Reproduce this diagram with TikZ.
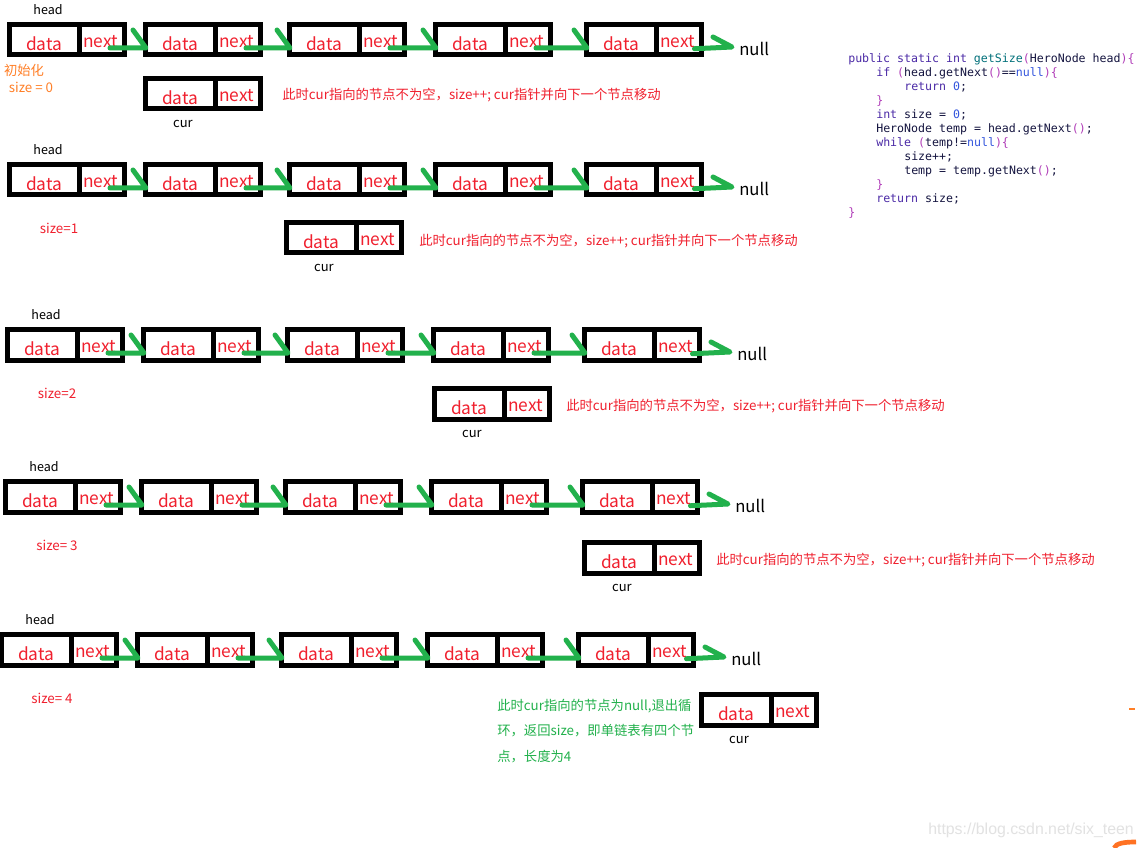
\documentclass[tikz,border=0pt]{standalone}
\usepackage{fontspec}
\newfontfamily\cjk{Noto Sans CJK SC}
\newfontfamily\codefont{DejaVu Sans Mono}
\newfontfamily\wmfont{Liberation Sans}
\usetikzlibrary{calc}
\definecolor{txtred}{HTML}{F0202E}
\definecolor{lgreen}{HTML}{22B14C}
\definecolor{orng}{HTML}{FF7F27}
\definecolor{kw}{HTML}{4B2AA6}
\definecolor{fn}{HTML}{00707A}
\definecolor{num}{HTML}{3355DD}
\definecolor{brk}{HTML}{B03CB8}
\definecolor{plain}{HTML}{151540}
\definecolor{wmgray}{HTML}{E2E2E2}
\tikzset{
  cell/.style={draw=black, line width=3.75pt, outer sep=0pt, inner sep=0pt, minimum height=22.875pt},
  dcell/.style={cell, minimum width=52.125pt},
  ncell/.style={cell, minimum width=34.125pt},
  dtxt/.style={font=\cjk\fontsize{13}{14}\selectfont, text=txtred, inner sep=0pt},
  headtxt/.style={font=\cjk\fontsize{9.4}{11}\selectfont, text=black, inner sep=0pt},
  curtxt/.style={font=\cjk\fontsize{9.75}{11}\selectfont, text=black, inner sep=0pt},
  nulltxt/.style={font=\cjk\fontsize{12.5}{14}\selectfont, text=black, inner sep=0pt},
  note/.style={font=\cjk\fontsize{10}{12}\selectfont, text=txtred, inner sep=0pt, anchor=west},
  sizetxt/.style={font=\cjk\fontsize{10}{12}\selectfont, text=txtred, inner sep=0pt},
  greentxt/.style={font=\cjk\fontsize{10}{12}\selectfont, text=lgreen, inner sep=0pt, anchor=west},
  codeline/.style={font=\codefont\fontsize{8.7}{10}\selectfont, text=plain, inner sep=0pt, anchor=base west},
  garrow/.style={draw=lgreen, line width=3.75pt, line cap=round, line join=round},
}
\newcommand\LL[3]{%
  \node[dcell,anchor=north west] (#1-d) at ({#2+2.5},{#3+2.5}) {};
  \node[ncell,anchor=west] (#1-n) at (#1-d.east) {};
  \node[dtxt] (#1-dt) at ($(#1-d.center)+(0,3.5)$) {data};
  \node[dtxt] (#1-nt) at ($(#1-n.center)+(-1,1.5)$) {next};
}
\newcommand\GA[2]{\draw[garrow] ($(#1-n.east)+(-14.5,8.25)$) -- ($(#2-d.west)+(0.5,8.25)$) -- ++(-13,-18);}
\newcommand\NA[2]{\draw[garrow] ($(#1-n.east)+(-7,9)$) -- ($(#2.west)+(-7,-2)$) -- ++(-19,-10);}
\newcommand\Row[3]{%
  \node[headtxt] (#1-head) at ({48+(#2)},{10+(#3)}) {head};
  \LL{#1-1}{7+(#2)}{22+(#3)}
  \LL{#1-2}{143+(#2)}{22+(#3)}
  \LL{#1-3}{287+(#2)}{22+(#3)}
  \LL{#1-4}{433+(#2)}{22+(#3)}
  \LL{#1-5}{584+(#2)}{22+(#3)}
  \node[nulltxt, anchor=west] (#1-null) at ({739+(#2)},{49+(#3)}) {null};
  \GA{#1-1}{#1-2}
  \GA{#1-2}{#1-3}
  \GA{#1-3}{#1-4}
  \GA{#1-4}{#1-5}
  \NA{#1-5}{#1-null}
}
\newcommand\CUR[3]{%
  \LL{#1}{#2}{#3}
  \node[curtxt] (#1-lbl) at ({#2+40},{#3+48}) {cur};
}
\begin{document}
\begin{tikzpicture}[x=0.75pt,y=-0.75pt]
\fill[white] (0,0) rectangle (1141,848);
\useasboundingbox (0,0) rectangle (1141,848);

% rows
\Row{r1}{0}{0}
\Row{r2}{0}{140}
\Row{r3}{-2}{305}
\Row{r4}{-4}{457}
\Row{r5}{-8}{610}

% cur boxes
\CUR{c1}{143}{76}
\CUR{c2}{284}{220}
\CUR{c3}{432}{386}
\CUR{c4}{582}{540}
\CUR{c5}{699}{692}

% annotations
\node[note] (n1) at (282,95) {此时cur指向的节点不为空，size++; cur指针并向下一个节点移动};
\node[note] (n2) at (419,241) {此时cur指向的节点不为空，size++; cur指针并向下一个节点移动};
\node[note] (n3) at (566,406) {此时cur指向的节点不为空，size++; cur指针并向下一个节点移动};
\node[note] (n4) at (716,560) {此时cur指向的节点不为空，size++; cur指针并向下一个节点移动};

\node[greentxt] (g1) at (497,706) {此时cur指向的节点为null,退出循};
\node[greentxt] (g2) at (497,731) {环，返回size，即单链表有四个节};
\node[greentxt] (g3) at (497,757) {点，长度为4};

% size labels
\node[sizetxt, text=orng] (s0a) at (24,70) {初始化};
\node[sizetxt, text=orng] (s0b) at (31,87) {size = 0};
\node[sizetxt] (s1) at (59,228) {size=1};
\node[sizetxt] (s2) at (57,393) {size=2};
\node[sizetxt] (s3) at (57,545) {size= 3};
\node[sizetxt] (s4) at (52,698) {size= 4};

% code
\node[codeline] (k1) at (848,63) {\textcolor{kw}{public static int} \textcolor{fn}{getSize}\textcolor{brk}{(}HeroNode head\textcolor{brk}{)\{}};
\node[codeline] (k2) at (876,77) {\textcolor{kw}{if} \textcolor{brk}{(}head.getNext\textcolor{brk}{()}==\textcolor{num}{null}\textcolor{brk}{)\{}};
\node[codeline] (k3) at (904,91) {\textcolor{kw}{return} \textcolor{num}{0};};
\node[codeline] (k4) at (876,105) {\textcolor{brk}{\}}};
\node[codeline] (k5) at (876,119) {\textcolor{kw}{int} size = \textcolor{num}{0};};
\node[codeline] (k6) at (876,133) {HeroNode temp = head.getNext\textcolor{brk}{()};};
\node[codeline] (k7) at (876,147) {\textcolor{kw}{while} \textcolor{brk}{(}temp!=\textcolor{num}{null}\textcolor{brk}{)\{}};
\node[codeline] (k8) at (904,161) {size++;};
\node[codeline] (k9) at (904,175) {temp = temp.getNext\textcolor{brk}{()};};
\node[codeline] (k10) at (876,189) {\textcolor{brk}{\}}};
\node[codeline] (k11) at (876,203) {\textcolor{kw}{return} size;};
\node[codeline] (k12) at (848,217) {\textcolor{brk}{\}}};

% watermark and small marks
\node[font=\wmfont\fontsize{11.9}{13}\selectfont, text=wmgray, inner sep=0pt, anchor=west] (wm) at (928,830) {https://blog.csdn.net/six\_teen};
\draw[orng, line width=0.8pt] (1129,709) -- (1135,709);
\draw[orng!90!red, line width=3.5pt] (1114,848) .. controls (1116,843) and (1125,842) .. (1136,842);
\end{tikzpicture}
\end{document}
